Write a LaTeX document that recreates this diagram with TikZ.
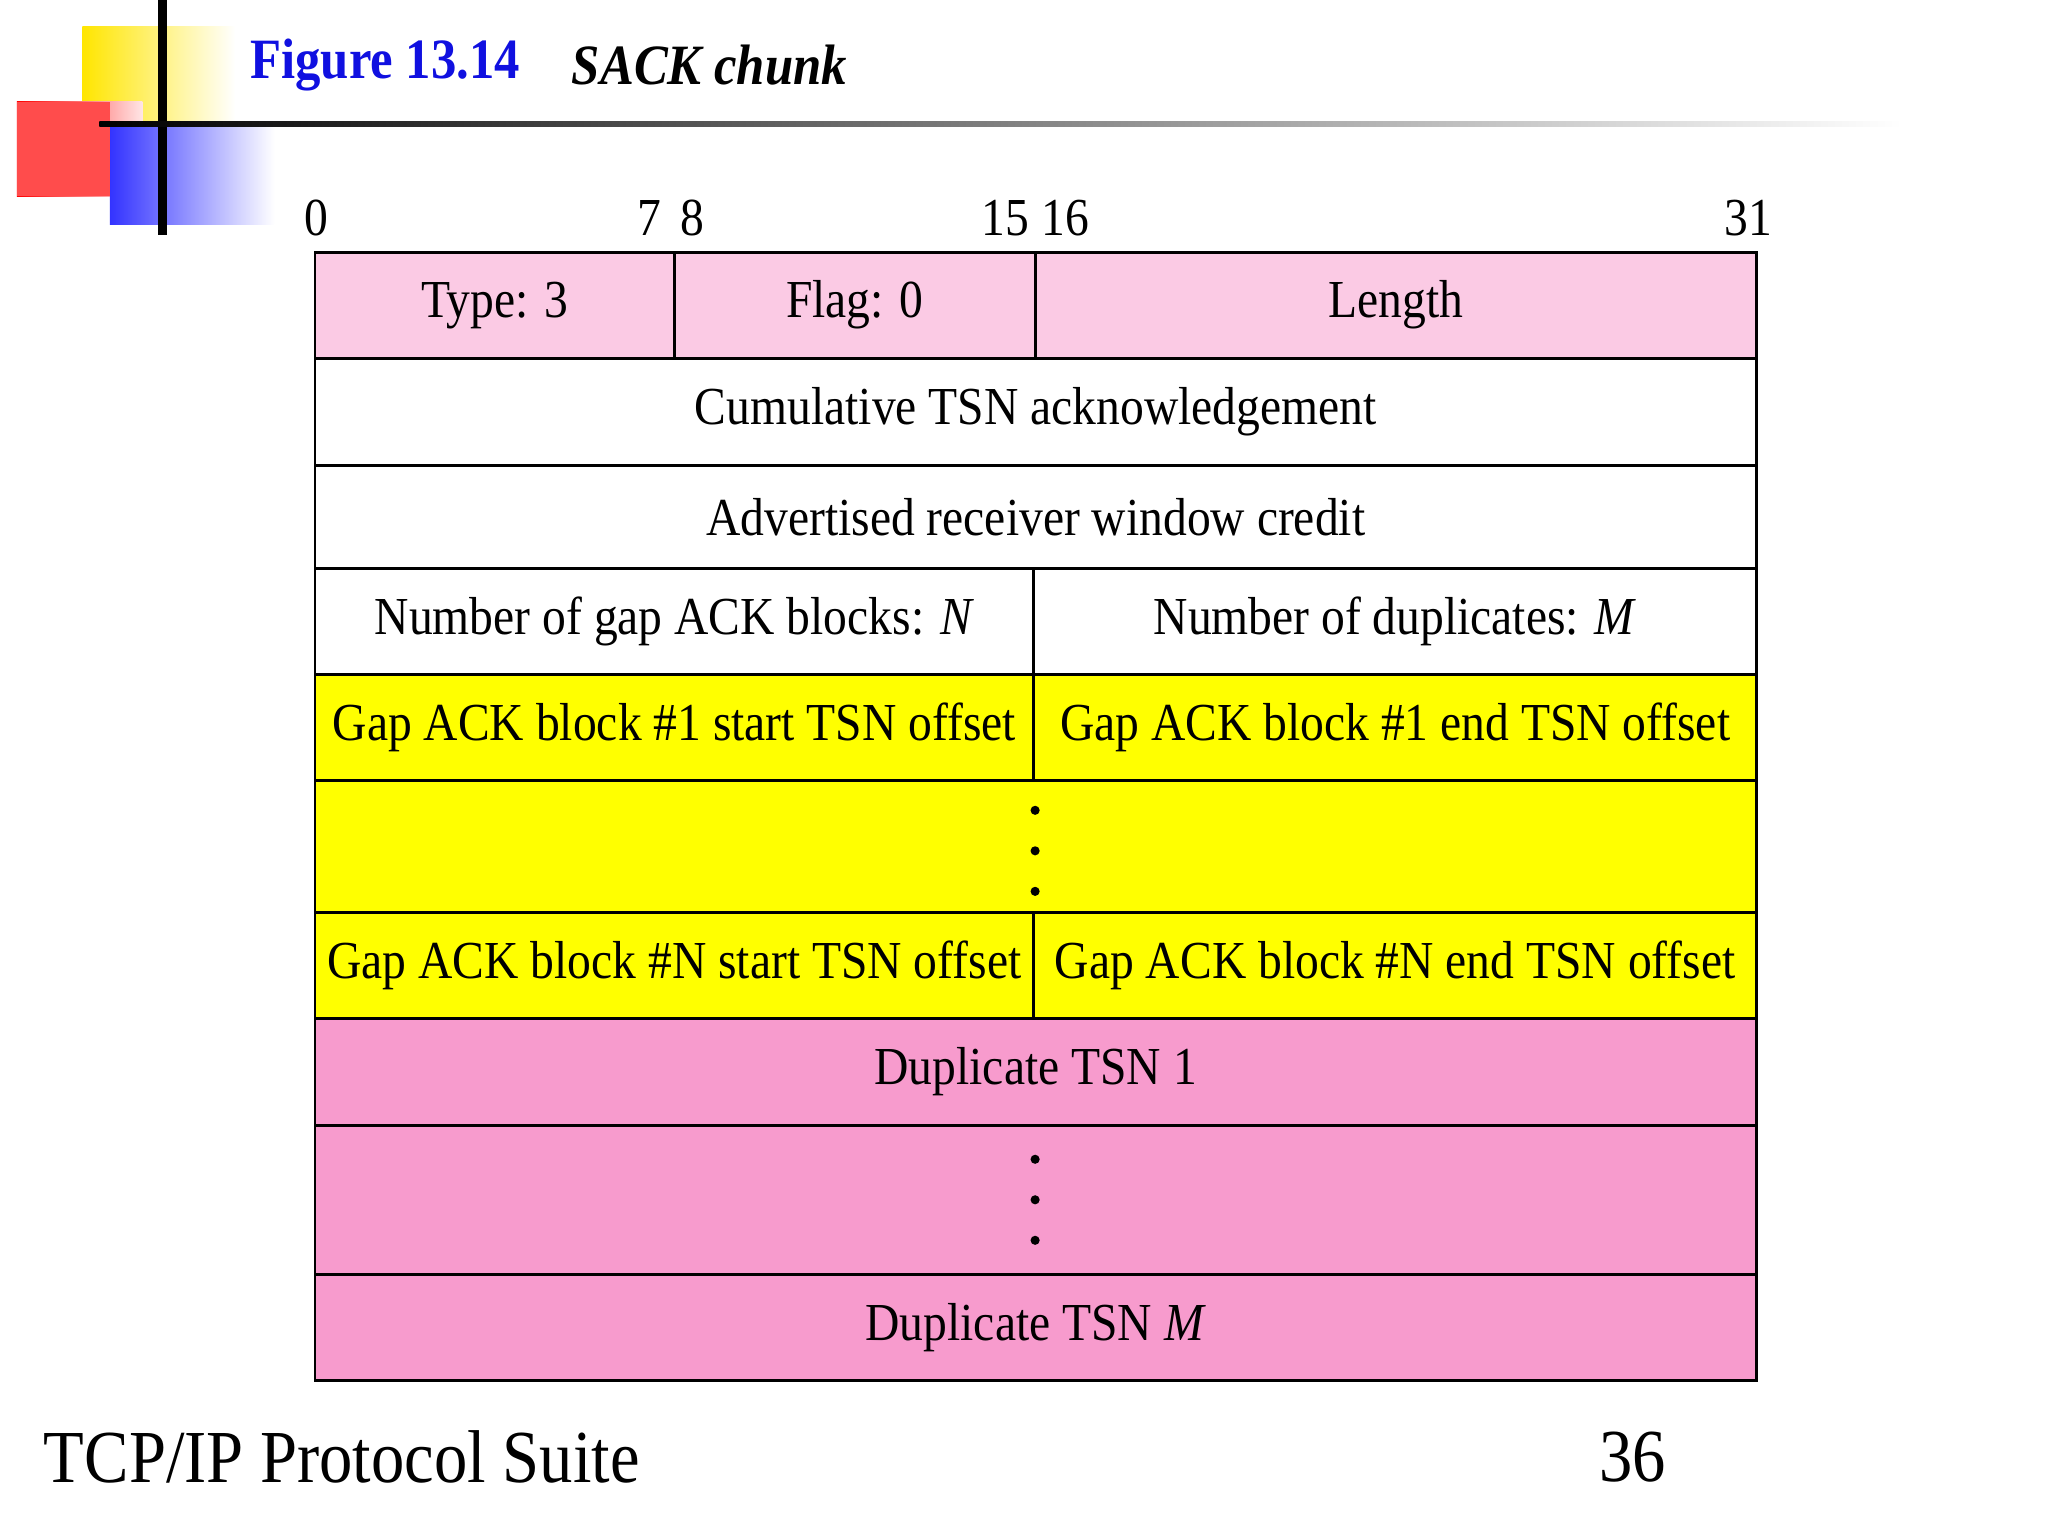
\documentclass[tikz,border=0pt]{standalone}
\usepackage{fontspec}
\setmainfont{Liberation Serif}[FakeStretch=0.89]
\usetikzlibrary{positioning}
\definecolor{lpink}{HTML}{FBCAE4}
\definecolor{dpink}{HTML}{F79BCD}
\definecolor{fyellow}{HTML}{FFFF00}
\definecolor{figblue}{HTML}{1010E0}

\begin{document}
\begin{tikzpicture}[x=0.0129cm, y=-0.0129cm,
  field/.style={draw=black, thick, inner sep=0pt, font=\fontsize{15}{18}\selectfont},
  bit/.style={font=\fontsize{15}{18}\selectfont}]
  \useasboundingbox (0,0) rectangle (1567,1175);

  % corner decoration
  \shade[left color=yellow!80!orange, right color=white] (63,20) rectangle (180,95);
  \shade[left color=red, right color=red!10] (13,78) rectangle (109,150);
  \shade[left color=blue!80, right color=white] (84,95) rectangle (210,172);
  \fill[red!70] (13,78) rectangle (84,150);
  \draw[line width=2.5pt] (124,0) -- (124,180);
  \shade[left color=black, right color=white] (76,93) rectangle (1455,97);

  \node[anchor=west, font=\fontsize{16}{19}\selectfont\bfseries, text=figblue] (fig) at (182,50) {Figure 13.14};
  \node[anchor=west, font=\fontsize{16}{19}\selectfont\bfseries\itshape] (cap) at (428,50) {SACK chunk};

  % bit numbers
  \node[bit] (b0) at (242,167) {0};
  \node[bit] (b7) at (497,167) {7};
  \node[bit] (b8) at (530,167) {8};
  \node[bit] (b15) at (769,167) {15};
  \node[bit] (b16) at (815,167) {16};
  \node[bit] (b31) at (1338,167) {31};

  % rows
  \node[field, fill=lpink, minimum width=275*0.0129cm, minimum height=81*0.0129cm] (type) at (378.5,233.5) {Type: 3};
  \node[field, fill=lpink, minimum width=276*0.0129cm, minimum height=81*0.0129cm] (flag) at (654,233.5) {Flag: 0};
  \node[field, fill=lpink, minimum width=552*0.0129cm, minimum height=81*0.0129cm] (len) at (1068,233.5) {Length};
  \node[field, minimum width=1103*0.0129cm, minimum height=82*0.0129cm] (cum) at (792.5,315) {Cumulative TSN acknowledgement};
  \node[field, minimum width=1103*0.0129cm, minimum height=79*0.0129cm] (adv) at (792.5,395.5) {Advertised receiver window credit};
  \node[field, minimum width=550*0.0129cm, minimum height=81*0.0129cm] (ngap) at (516,475.5) {Number of gap ACK blocks: \textit{N}};
  \node[field, minimum width=553*0.0129cm, minimum height=81*0.0129cm] (ndup) at (1067.5,475.5) {Number of duplicates: \textit{M}};
  \node[field, fill=fyellow, minimum width=550*0.0129cm, minimum height=81*0.0129cm] (g1s) at (516,556.5) {Gap ACK block \#1 start TSN offset};
  \node[field, fill=fyellow, minimum width=553*0.0129cm, minimum height=81*0.0129cm] (g1e) at (1067.5,556.5) {Gap ACK block \#1 end TSN offset};
  \node[field, fill=fyellow, minimum width=1103*0.0129cm, minimum height=101*0.0129cm] (gdots) at (792.5,647.5) {};
  \node[field, fill=fyellow, minimum width=550*0.0129cm, minimum height=81*0.0129cm] (gns) at (516,738.5) {Gap ACK block \#N start TSN offset};
  \node[field, fill=fyellow, minimum width=553*0.0129cm, minimum height=81*0.0129cm] (gne) at (1067.5,738.5) {Gap ACK block \#N end TSN offset};
  \node[field, fill=dpink, minimum width=1103*0.0129cm, minimum height=82*0.0129cm] (dup1) at (792.5,820) {Duplicate TSN 1};
  \node[field, fill=dpink, minimum width=1103*0.0129cm, minimum height=114*0.0129cm] (ddots) at (792.5,918) {};
  \node[field, fill=dpink, minimum width=1103*0.0129cm, minimum height=81*0.0129cm] (dupm) at (792.5,1015.5) {Duplicate TSN \textit{M}};

  % dots
  \foreach \yy in {620,651,682,887,918,949}
    \fill (792,\yy) circle (3.5);

  % footer
  \node[anchor=west, font=\fontsize{21}{25}\selectfont] (suite) at (24,1115) {TCP/IP Protocol Suite};
  \node[font=\fontsize{21}{25}\selectfont] (page) at (1249,1115) {36};
\end{tikzpicture}
\end{document}
